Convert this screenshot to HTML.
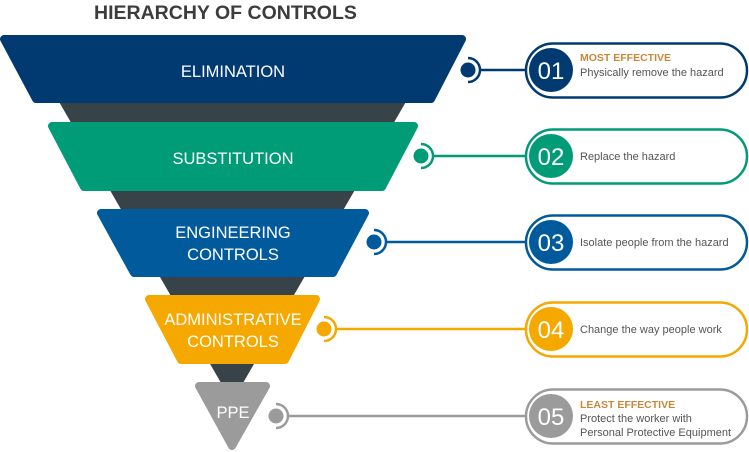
<!DOCTYPE html>
<html><head><style>
html,body{margin:0;padding:0;background:#fff;}
svg{display:block;}
text{font-family:"Liberation Sans",sans-serif;}
</style></head><body>
<svg width="749" height="452" viewBox="0 0 749 452" xmlns="http://www.w3.org/2000/svg">
<text x="94" y="19" font-size="19.5" font-weight="bold" fill="#3c3c3c">HIERARCHY OF CONTROLS</text>
<polygon points="58,100 407,100 232,402" fill="#374349"/>
<g stroke-linejoin="round" stroke-width="8">
<polygon points="4,39 462,39 431,99 36,99" fill="#003a70" stroke="#003a70"/>
<polygon points="52,126 414,126 382,187 84,187" fill="#009b77" stroke="#009b77"/>
<polygon points="101,213 365,213 333,273 134,273" fill="#005a9c" stroke="#005a9c"/>
<polygon points="149,299 316,299 285,360 181,360" fill="#f5a800" stroke="#f5a800"/>
<polygon points="199,386 266,386 232,446" fill="#9b9b9b" stroke="#9b9b9b"/>
</g>
<g fill="#fff" font-size="16.5" text-anchor="middle">
<text x="233" y="77">ELIMINATION</text>
<text x="233" y="164">SUBSTITUTION</text>
<text x="233" y="238">ENGINEERING</text>
<text x="233" y="260">CONTROLS</text>
<text x="233" y="325">ADMINISTRATIVE</text>
<text x="233" y="347">CONTROLS</text>
<text x="233" y="418">PPE</text>
</g>
<!-- connectors -->
<g fill="none" stroke-width="2.5">
<g stroke="#003a70"><path d="M468,58 A12,12 0 0 1 468,82"/><line x1="481" y1="70" x2="527" y2="70"/>
<rect x="526" y="43.5" width="221" height="54" rx="27"/></g>
<g stroke="#009b77"><path d="M421,144 A12,12 0 0 1 421,168"/><line x1="434" y1="156" x2="527" y2="156"/>
<rect x="526" y="129.5" width="221" height="54" rx="27"/></g>
<g stroke="#005a9c"><path d="M374,230 A12,12 0 0 1 374,254"/><line x1="387" y1="242" x2="527" y2="242"/>
<rect x="526" y="215.5" width="221" height="54" rx="27"/></g>
<g stroke="#f5a800"><path d="M324,317 A12,12 0 0 1 324,341"/><line x1="337" y1="329" x2="527" y2="329"/>
<rect x="526" y="302.5" width="221" height="54" rx="27"/></g>
<g stroke="#9b9b9b"><path d="M276,404 A12,12 0 0 1 276,428"/><line x1="289" y1="416" x2="527" y2="416"/>
<rect x="526" y="389.5" width="221" height="54" rx="27"/></g>
</g>
<circle cx="468" cy="70" r="7.5" fill="#003a70"/>
<circle cx="421" cy="156" r="7.5" fill="#009b77"/>
<circle cx="374" cy="242" r="7.5" fill="#005a9c"/>
<circle cx="324" cy="329" r="7.5" fill="#f5a800"/>
<circle cx="276" cy="416" r="7.5" fill="#9b9b9b"/>
<circle cx="551" cy="70" r="22" fill="#003a70"/>
<circle cx="551" cy="156" r="22" fill="#009b77"/>
<circle cx="551" cy="242" r="22" fill="#005a9c"/>
<circle cx="551" cy="329" r="22" fill="#f5a800"/>
<circle cx="551" cy="416" r="22" fill="#9b9b9b"/>
<g fill="#fff" font-size="24" text-anchor="middle">
<text x="551" y="79">01</text><text x="551" y="165">02</text><text x="551" y="251">03</text><text x="551" y="338">04</text><text x="551" y="425">05</text>
</g>
<g font-size="11" fill="#555">
<text x="580" y="61" fill="#c8873a" font-weight="bold" font-size="10.5">MOST EFFECTIVE</text>
<text x="580" y="76">Physically remove the hazard</text>
<text x="580" y="160">Replace the hazard</text>
<text x="580" y="246">Isolate people from the hazard</text>
<text x="580" y="333">Change the way people work</text>
<text x="580" y="408" fill="#c8873a" font-weight="bold" font-size="10.5">LEAST EFFECTIVE</text>
<text x="580" y="422">Protect the worker with</text>
<text x="580" y="436">Personal Protective Equipment</text>
</g>
</svg>
</body></html>
